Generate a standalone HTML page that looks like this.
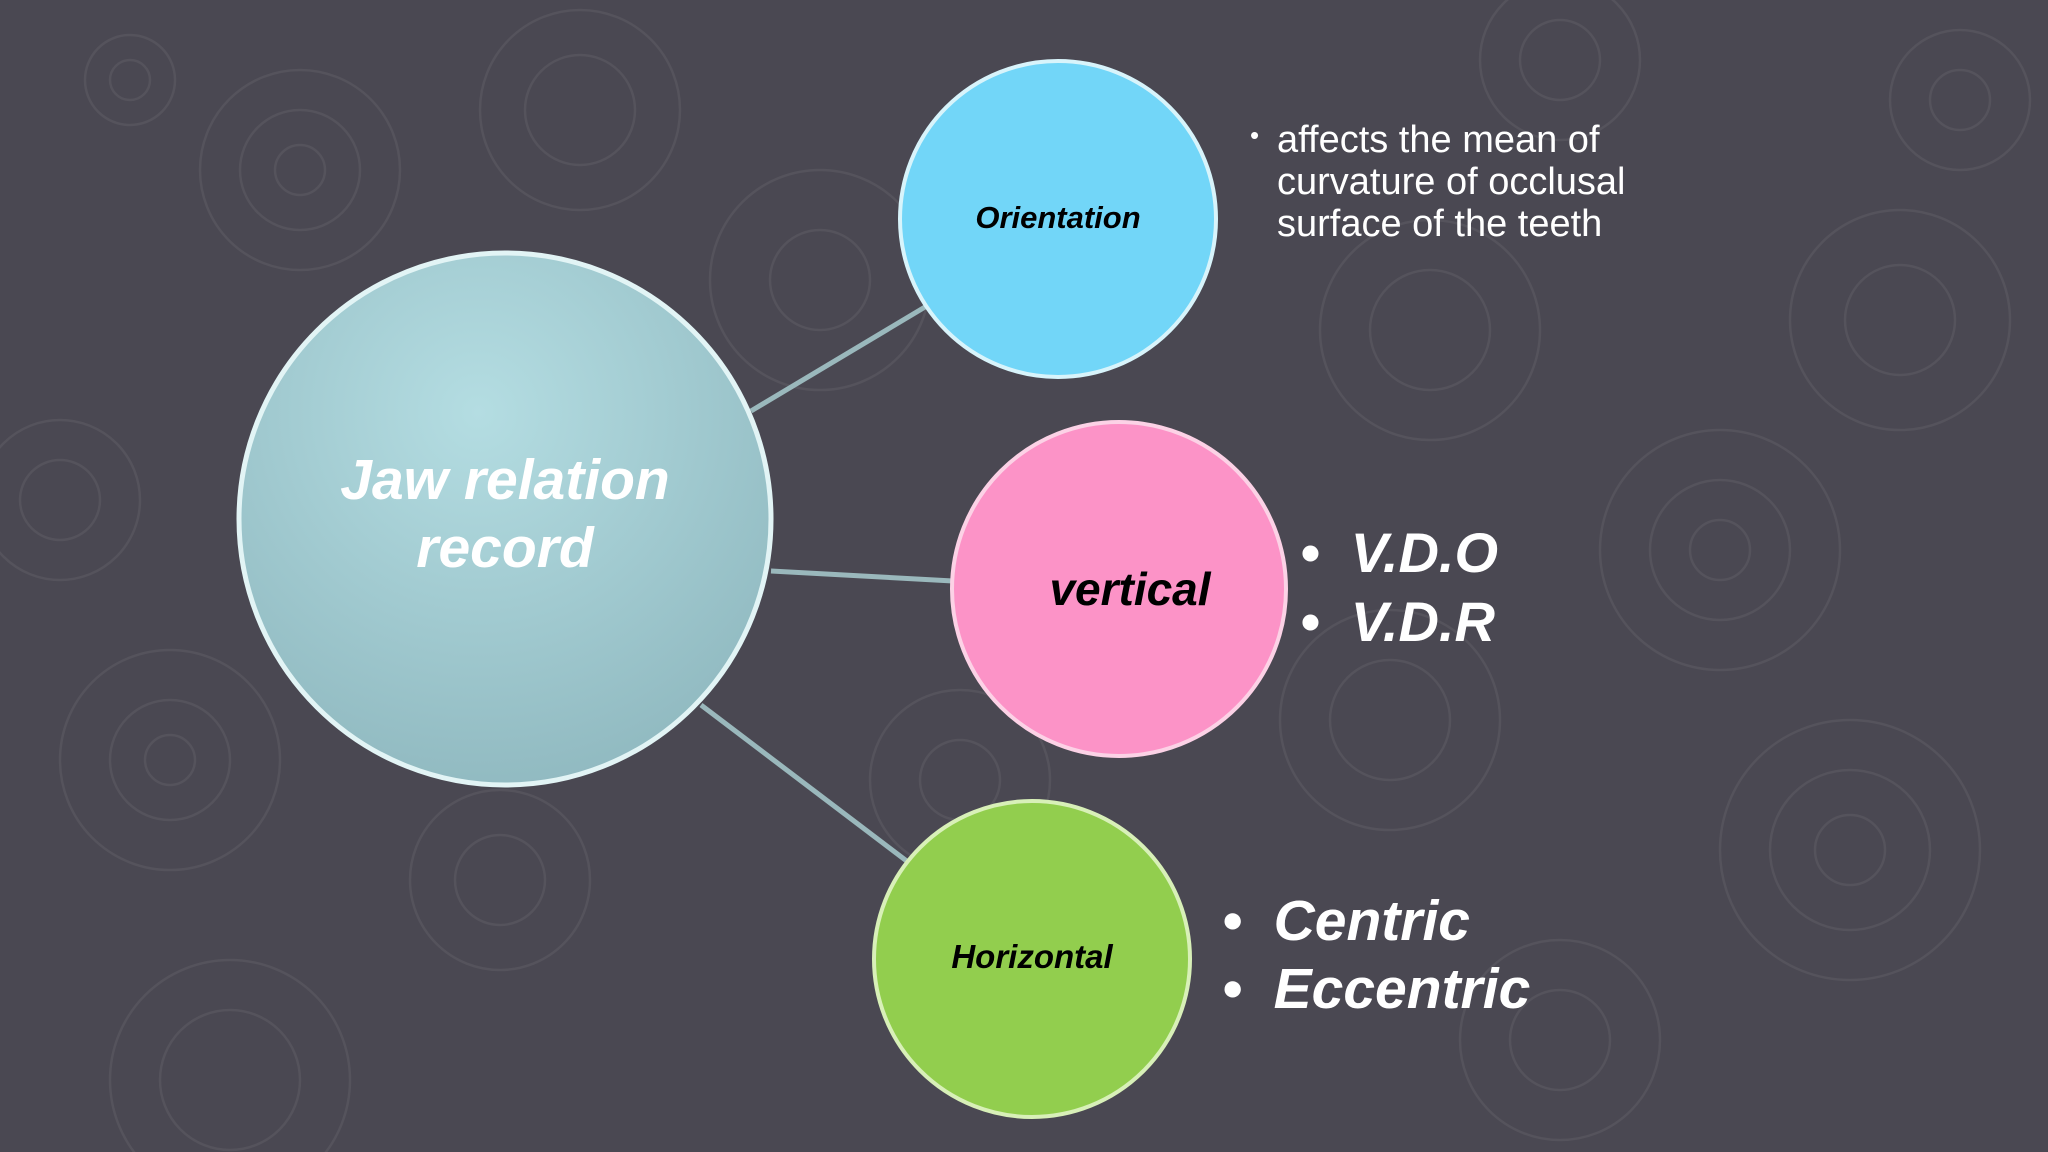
<!DOCTYPE html>
<html><head><meta charset="utf-8"><style>
html,body{margin:0;padding:0;}
body{width:2048px;height:1152px;overflow:hidden;background:#4a4852;position:relative;font-family:"Liberation Sans",sans-serif;}
.t{position:absolute;white-space:nowrap;}
</style></head><body>
<svg width="2048" height="1152" style="position:absolute;left:0;top:0">
<defs>
<radialGradient id="gm" cx="45%" cy="30%" r="75%"><stop offset="0" stop-color="#b4dde2"/><stop offset="1" stop-color="#8fb8bf"/></radialGradient>
</defs>
<g fill="none" stroke="#55535c" stroke-width="2.5">
<circle cx="130" cy="80" r="45"/><circle cx="130" cy="80" r="20"/>
<circle cx="300" cy="170" r="100"/><circle cx="300" cy="170" r="60"/><circle cx="300" cy="170" r="25"/>
<circle cx="580" cy="110" r="100"/><circle cx="580" cy="110" r="55"/>
<circle cx="60" cy="500" r="80"/><circle cx="60" cy="500" r="40"/>
<circle cx="170" cy="760" r="110"/><circle cx="170" cy="760" r="60"/><circle cx="170" cy="760" r="25"/>
<circle cx="500" cy="880" r="90"/><circle cx="500" cy="880" r="45"/>
<circle cx="230" cy="1080" r="120"/><circle cx="230" cy="1080" r="70"/>
<circle cx="1430" cy="330" r="110"/><circle cx="1430" cy="330" r="60"/>
<circle cx="1720" cy="550" r="120"/><circle cx="1720" cy="550" r="70"/><circle cx="1720" cy="550" r="30"/>
<circle cx="1900" cy="320" r="110"/><circle cx="1900" cy="320" r="55"/>
<circle cx="1850" cy="850" r="130"/><circle cx="1850" cy="850" r="80"/><circle cx="1850" cy="850" r="35"/>
<circle cx="1560" cy="60" r="80"/><circle cx="1560" cy="60" r="40"/>
<circle cx="1390" cy="720" r="110"/><circle cx="1390" cy="720" r="60"/>
<circle cx="1560" cy="1040" r="100"/><circle cx="1560" cy="1040" r="50"/>
<circle cx="820" cy="280" r="110"/><circle cx="820" cy="280" r="50"/>
<circle cx="960" cy="780" r="90"/><circle cx="960" cy="780" r="40"/>
<circle cx="1960" cy="100" r="70"/><circle cx="1960" cy="100" r="30"/>
</g>
<g stroke="#9ab8bc" stroke-width="5">
<line x1="751" y1="411" x2="925" y2="307"/>
<line x1="771" y1="571" x2="953" y2="581"/>
<line x1="701" y1="705" x2="908" y2="862"/>
</g>
<circle cx="505" cy="519" r="266" fill="url(#gm)" stroke="#e2f4f5" stroke-width="5"/>
<circle cx="1058" cy="219" r="158" fill="#72d6f8" stroke="#d8f4fb" stroke-width="4"/>
<circle cx="1119" cy="589" r="167" fill="#fc93c7" stroke="#fcd2e6" stroke-width="4"/>
<circle cx="1032" cy="959" r="158" fill="#92ce4e" stroke="#d8f0b8" stroke-width="4"/>
</svg>
<div class="t" style="left:255px;top:446px;width:500px;text-align:center;color:#fff;font:italic bold 57px/68px 'Liberation Sans',sans-serif;">Jaw relation<br>record</div>
<div class="t" style="left:908px;top:200px;width:300px;text-align:center;color:#000;font:italic bold 31px 'Liberation Sans',sans-serif;">Orientation</div>
<div class="t" style="left:980px;top:562px;width:300px;text-align:center;color:#000;font:italic bold 46px 'Liberation Sans',sans-serif;">vertical</div>
<div class="t" style="left:882px;top:938px;width:300px;text-align:center;color:#000;font:italic bold 33px 'Liberation Sans',sans-serif;">Horizontal</div>
<div class="t" style="left:1250px;top:120px;font-size:26px;color:#fff;">•</div>
<div class="t" style="left:1277px;top:119px;color:#fff;font:38px/42px 'Liberation Sans',sans-serif;">affects the mean of<br>curvature of occlusal<br>surface of the teeth</div>
<div class="t" style="left:1300px;top:518px;color:#fff;font:italic bold 56px/69px 'Liberation Sans',sans-serif;">•&nbsp;&nbsp;V.D.O<br>•&nbsp;&nbsp;V.D.R</div>
<div class="t" style="left:1222px;top:887px;color:#fff;font:italic bold 57px/68px 'Liberation Sans',sans-serif;">•&nbsp;&nbsp;Centric<br>•&nbsp;&nbsp;Eccentric</div>
</body></html>
